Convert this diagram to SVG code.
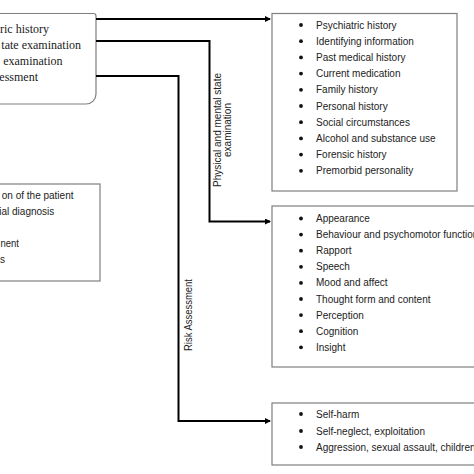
<svg xmlns="http://www.w3.org/2000/svg" width="474" height="474" viewBox="0 0 474 474">
  <style>
    .box { fill: #ffffff; stroke: #7f7f7f; stroke-width: 1.2; }
    .conn { fill: none; stroke: #000000; stroke-width: 2; }
    .serif { font-family: "Liberation Serif", "Times New Roman", serif; font-size: 12px; fill: #1a1a1a; }
    .sans { font-family: "Liberation Sans", Arial, sans-serif; font-size: 10px; fill: #222222; }
    .bullet { fill: #111111; }
  </style>
  <defs>
    <marker id="arrow" viewBox="0 0 6 6" refX="5" refY="3" markerWidth="6" markerHeight="6" markerUnits="userSpaceOnUse" orient="auto">
      <path d="M0,0 L6,3 L0,6 z" fill="#000000"/>
    </marker>
  </defs>
  <rect x="0" y="0" width="474" height="474" fill="#ffffff"/>

  <g id="node-assessment">
    <path class="box" d="M -5 13.5 H 93.5 A 2.5 2.5 0 0 1 96 16 V 94 A 10 10 0 0 1 86 104 H -5 Z"/>
    <text class="serif" x="49" y="33.3" text-anchor="end">ric history</text>
    <text class="serif" x="81" y="49.1" text-anchor="end">tate examination</text>
    <text class="serif" x="62.5" y="64.9" text-anchor="end">examination</text>
    <text class="serif" x="38" y="80.7" text-anchor="end">essment</text>
  </g>

  <g id="node-formulation">
    <rect class="box" x="-5" y="184" width="105" height="97"/>
    <text class="sans" x="73.5" y="198.5" text-anchor="end">on of the patient</text>
    <text class="sans" x="54.3" y="214.7" text-anchor="end">ial diagnosis</text>
    <text class="sans" x="0.5" y="247.1" textLength="18.5" lengthAdjust="spacingAndGlyphs">nent</text>
    <text class="sans" x="0" y="263.3">s</text>
  </g>

  <g id="node-history">
    <rect class="box" x="272" y="13.5" width="185" height="177.5"/>
    <g class="bullet">
      <circle cx="301" cy="25" r="1.9"/>
      <circle cx="301" cy="41.2" r="1.9"/>
      <circle cx="301" cy="57.4" r="1.9"/>
      <circle cx="301" cy="73.6" r="1.9"/>
      <circle cx="301" cy="89.8" r="1.9"/>
      <circle cx="301" cy="106" r="1.9"/>
      <circle cx="301" cy="122.2" r="1.9"/>
      <circle cx="301" cy="138.4" r="1.9"/>
      <circle cx="301" cy="154.6" r="1.9"/>
      <circle cx="301" cy="170.8" r="1.9"/>
    </g>
    <text class="sans" x="316" y="28.5">Psychiatric history</text>
    <text class="sans" x="316" y="44.7">Identifying information</text>
    <text class="sans" x="316" y="60.9">Past medical history</text>
    <text class="sans" x="316" y="77.1">Current medication</text>
    <text class="sans" x="316" y="93.3">Family history</text>
    <text class="sans" x="316" y="109.5">Personal history</text>
    <text class="sans" x="316" y="125.7">Social circumstances</text>
    <text class="sans" x="316" y="141.9">Alcohol and substance use</text>
    <text class="sans" x="316" y="158.1">Forensic history</text>
    <text class="sans" x="316" y="174.3">Premorbid personality</text>
  </g>

  <g id="node-mse">
    <rect class="box" x="272" y="206" width="210" height="161"/>
    <g class="bullet">
      <circle cx="301" cy="218.5" r="1.9"/>
      <circle cx="301" cy="234.6" r="1.9"/>
      <circle cx="301" cy="250.7" r="1.9"/>
      <circle cx="301" cy="266.8" r="1.9"/>
      <circle cx="301" cy="282.9" r="1.9"/>
      <circle cx="301" cy="299" r="1.9"/>
      <circle cx="301" cy="315.1" r="1.9"/>
      <circle cx="301" cy="331.2" r="1.9"/>
      <circle cx="301" cy="347.3" r="1.9"/>
    </g>
    <text class="sans" x="316" y="222">Appearance</text>
    <text class="sans" x="316" y="238.1">Behaviour and psychomotor function</text>
    <text class="sans" x="316" y="254.2">Rapport</text>
    <text class="sans" x="316" y="270.3">Speech</text>
    <text class="sans" x="316" y="286.4">Mood and affect</text>
    <text class="sans" x="316" y="302.5">Thought form and content</text>
    <text class="sans" x="316" y="318.6">Perception</text>
    <text class="sans" x="316" y="334.7">Cognition</text>
    <text class="sans" x="316" y="350.8">Insight</text>
  </g>

  <g id="node-risk">
    <rect class="box" x="272" y="403" width="210" height="62"/>
    <g class="bullet">
      <circle cx="301" cy="414" r="1.9"/>
      <circle cx="301" cy="431" r="1.9"/>
      <circle cx="301" cy="447" r="1.9"/>
    </g>
    <text class="sans" x="316" y="417.5">Self-harm</text>
    <text class="sans" x="316" y="434.5">Self-neglect, exploitation</text>
    <text class="sans" x="316" y="450.5">Aggression, sexual assault, children</text>
  </g>

  <g id="connectors">
    <path class="conn" d="M96 19 H270" marker-end="url(#arrow)"/>
    <path class="conn" d="M96 41 H209.5 V221.5 H270" marker-end="url(#arrow)"/>
    <path class="conn" d="M96 76 H178.5 V421 H270" marker-end="url(#arrow)"/>
    <text class="sans" transform="translate(221,130) rotate(-90)" x="0" y="0" text-anchor="middle" textLength="114">Physical and mental state</text>
    <text class="sans" transform="translate(230.5,130) rotate(-90)" x="0" y="0" text-anchor="middle">examination</text>
    <text class="sans" transform="translate(192,315) rotate(-90)" x="0" y="0" text-anchor="middle" textLength="72" lengthAdjust="spacingAndGlyphs">Risk Assessment</text>
  </g>
</svg>
